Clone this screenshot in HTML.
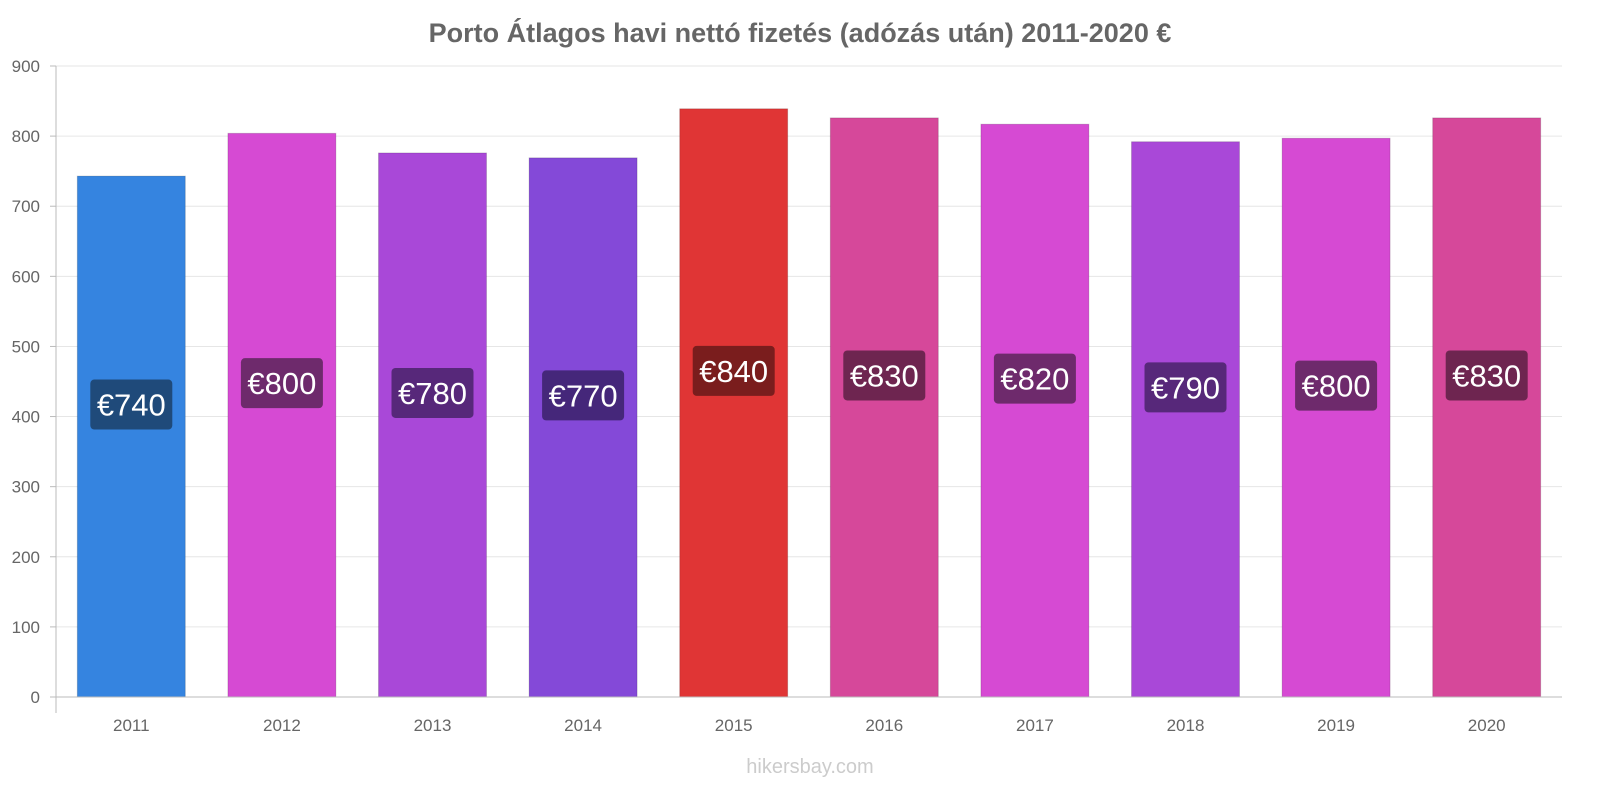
<!DOCTYPE html>
<html><head><meta charset="utf-8"><style>
body{margin:0;background:#fff;font-family:"Liberation Sans",sans-serif}
svg text{font-family:"Liberation Sans",sans-serif}
</style></head><body>
<svg id="chart" width="1600" height="800" viewBox="0 0 1600 800">
<text x="800" y="42" text-anchor="middle" font-size="27" font-weight="bold" fill="#666">Porto Átlagos havi nettó fizetés (adózás után) 2011-2020 €</text>
<g id="grid"></g><g id="bars"></g><g id="axes"></g>
<text x="810" y="773" text-anchor="middle" font-size="20" fill="#ccc">hikersbay.com</text>
</svg>
<script>
const categories=["2011","2012","2013","2014","2015","2016","2017","2018","2019","2020"];
const values=[743,804,776,769,839,826,817,792,797,826];
const valueLabels=["€740","€800","€780","€770","€840","€830","€820","€790","€800","€830"];
const yTicks=[0,100,200,300,400,500,600,700,800,900];
const colors=["#3584e0","#d64ad3","#a948d8","#8449d8","#e03535","#d6489a","#d64ad3","#a948d8","#d64ad3","#d6489a"];
const labelColors=["#1f4a7a","#6e2a6c","#57287a","#45277a","#7a1d1d","#6e2550","#6e2a6c","#57287a","#6e2a6c","#6e2550"];
const NS="http://www.w3.org/2000/svg";
const x0=56,x1=1562,yTop=66,yBot=697,yMax=900;
const y=v=>yBot-(v/yMax)*(yBot-yTop);
const step=(x1-x0)/categories.length;
const xc=i=>x0+step*(i+0.5);
function mk(tag,attrs,parent){const e=document.createElementNS(NS,tag);for(const k in attrs)e.setAttribute(k,attrs[k]);parent.appendChild(e);return e;}
const grid=document.getElementById('grid'),bars=document.getElementById('bars'),axes=document.getElementById('axes');
yTicks.forEach(t=>{
 const l=mk('line',{x1:x0,x2:x1,y1:y(t),y2:y(t),stroke:'#e6e6e6'},grid);
 
 
 const tk=mk('line',{x1:x0-6,x2:x0,y1:y(t),y2:y(t),stroke:'#bbb'},axes);
 
 
 const tx=mk('text',{x:x0-16,y:y(t)+6,'text-anchor':'end','font-size':17,fill:'#666'},axes);
 tx.textContent=t;
 
 
});
const ya=mk('line',{x1:x0,x2:x0,y1:yTop,y2:yBot+16,stroke:'#bbb'},axes);


const xa=mk('line',{x1:x0-6,x2:x1,y1:yBot,y2:yBot,stroke:'#bbb'},axes);


const bw=108;
categories.forEach((c,i)=>{
 const cx=xc(i),top=y(values[i]);
 const r=mk('rect',{x:cx-bw/2,y:top,width:bw,height:yBot-top,fill:colors[i],stroke:'rgba(0,0,0,0.15)'},bars);
 
 
 const ly=(top+yBot)/2-32;
 const lb=mk('rect',{x:cx-41,y:ly-25,width:82,height:50,rx:4,fill:labelColors[i]},bars);
 
 
 const lt=mk('text',{x:cx,y:ly+11,'text-anchor':'middle','font-size':31,fill:'#fff'},bars);
 lt.textContent=valueLabels[i];
 
 
 const xt=mk('text',{x:cx,y:731,'text-anchor':'middle','font-size':17,fill:'#666'},axes);
 xt.textContent=c;
 
 
});
</script>
</body></html>
